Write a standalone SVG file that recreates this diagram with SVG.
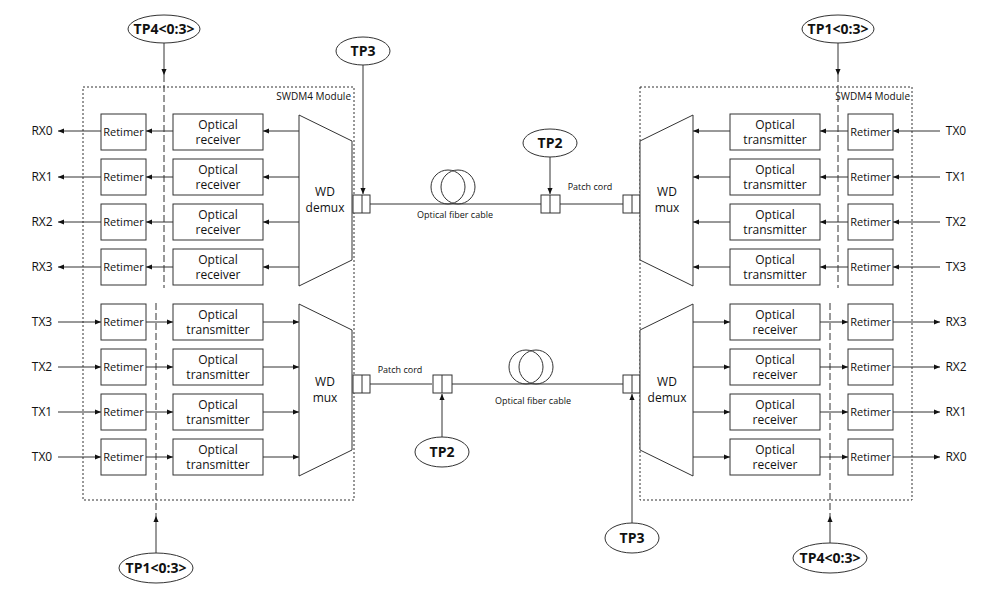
<svg xmlns="http://www.w3.org/2000/svg" width="1000" height="594" viewBox="0 0 1000 594">
<style>
text{font-family:"Open Sans","Liberation Sans",sans-serif;fill:#111}
.t{font-size:12px;text-anchor:middle}
.r{font-size:11px;text-anchor:middle}
.s{font-size:9px;text-anchor:middle}
.tp{font-size:14px;font-weight:bold;text-anchor:middle}
.b{fill:#fff;stroke:#333;stroke-width:1}
.l{stroke:#333;stroke-width:1;fill:none}
.d{stroke:#333;stroke-width:1;fill:none;stroke-dasharray:2,2}
.dl{stroke:#333;stroke-width:1;fill:none;stroke-dasharray:7,3}
</style>
<defs><marker id="a" viewBox="0 0 8 8" refX="7" refY="4" markerWidth="7" markerHeight="7" orient="auto"><path d="M0,1L7,4L0,7z" fill="#111"/></marker></defs>
<rect width="1000" height="594" fill="#fff"/>
<g id="modules">
<rect class="d" x="83" y="87" width="271" height="413"/>
<rect class="d" x="640" y="87" width="272" height="413"/>
<text x="351" y="100" font-size="10" text-anchor="end">SWDM4 Module</text>
<text x="910" y="100" font-size="10" text-anchor="end">SWDM4 Module</text>
</g>
<g id="connectors">
<g class="l" marker-end="url(#a)">
<line x1="101" y1="131" x2="58" y2="131"/><line x1="101" y1="177" x2="58" y2="177"/><line x1="101" y1="222" x2="58" y2="222"/><line x1="101" y1="267" x2="58" y2="267"/>
<line x1="173" y1="131" x2="146" y2="131"/><line x1="173" y1="177" x2="146" y2="177"/><line x1="173" y1="222" x2="146" y2="222"/><line x1="173" y1="267" x2="146" y2="267"/>
<line x1="299" y1="131" x2="263" y2="131"/><line x1="299" y1="177" x2="263" y2="177"/><line x1="299" y1="222" x2="263" y2="222"/><line x1="299" y1="267" x2="263" y2="267"/>
<line x1="58" y1="322" x2="101" y2="322"/><line x1="58" y1="367" x2="101" y2="367"/><line x1="58" y1="412" x2="101" y2="412"/><line x1="58" y1="457" x2="101" y2="457"/>
<line x1="146" y1="322" x2="173" y2="322"/><line x1="146" y1="367" x2="173" y2="367"/><line x1="146" y1="412" x2="173" y2="412"/><line x1="146" y1="457" x2="173" y2="457"/>
<line x1="263" y1="322" x2="299" y2="322"/><line x1="263" y1="367" x2="299" y2="367"/><line x1="263" y1="412" x2="299" y2="412"/><line x1="263" y1="457" x2="299" y2="457"/>
<line x1="940" y1="131" x2="893" y2="131"/><line x1="940" y1="177" x2="893" y2="177"/><line x1="940" y1="222" x2="893" y2="222"/><line x1="940" y1="267" x2="893" y2="267"/>
<line x1="848" y1="131" x2="820" y2="131"/><line x1="848" y1="177" x2="820" y2="177"/><line x1="848" y1="222" x2="820" y2="222"/><line x1="848" y1="267" x2="820" y2="267"/>
<line x1="730" y1="131" x2="693" y2="131"/><line x1="730" y1="177" x2="693" y2="177"/><line x1="730" y1="222" x2="693" y2="222"/><line x1="730" y1="267" x2="693" y2="267"/>
<line x1="693" y1="322" x2="730" y2="322"/><line x1="693" y1="367" x2="730" y2="367"/><line x1="693" y1="412" x2="730" y2="412"/><line x1="693" y1="457" x2="730" y2="457"/>
<line x1="820" y1="322" x2="848" y2="322"/><line x1="820" y1="367" x2="848" y2="367"/><line x1="820" y1="412" x2="848" y2="412"/><line x1="820" y1="457" x2="848" y2="457"/>
<line x1="893" y1="322" x2="940" y2="322"/><line x1="893" y1="367" x2="940" y2="367"/><line x1="893" y1="412" x2="940" y2="412"/><line x1="893" y1="457" x2="940" y2="457"/>
<line x1="164" y1="43" x2="164" y2="75"/>
<line x1="838" y1="43" x2="838" y2="75"/>
<line x1="363" y1="65" x2="363" y2="194"/>
<line x1="550" y1="157" x2="550" y2="194"/>
<line x1="442" y1="437" x2="442" y2="394"/>
<line x1="632" y1="523" x2="632" y2="394"/>
<line x1="156" y1="553" x2="156" y2="516"/>
<line x1="830" y1="543" x2="830" y2="516"/>
</g>
<line class="dl" x1="164" y1="75" x2="164" y2="288"/>
<line class="dl" x1="838" y1="75" x2="838" y2="288"/>
<line class="dl" x1="156" y1="303" x2="156" y2="516"/>
<line class="dl" x1="830" y1="303" x2="830" y2="516"/>
<line class="l" x1="370" y1="204" x2="541" y2="204"/>
<line class="l" x1="560" y1="204" x2="623" y2="204"/>
<line class="l" x1="370" y1="384" x2="432" y2="384"/>
<line class="l" x1="452" y1="384" x2="623" y2="384"/>
<circle class="l" cx="448" cy="187" r="17"/><circle class="l" cx="458" cy="187" r="17"/>
<circle class="l" cx="526" cy="367" r="17"/><circle class="l" cx="536" cy="367" r="17"/>
</g>
<g id="plugs">
<rect class="b" x="353" y="195" width="17" height="18"/><line class="l" x1="362" y1="195" x2="362" y2="213"/>
<rect class="b" x="541" y="195" width="19" height="18"/><line class="l" x1="550" y1="195" x2="550" y2="213"/>
<rect class="b" x="623" y="195" width="17" height="18"/><line class="l" x1="632" y1="195" x2="632" y2="213"/>
<rect class="b" x="353" y="375" width="17" height="18"/><line class="l" x1="362" y1="375" x2="362" y2="393"/>
<rect class="b" x="433" y="375" width="19" height="18"/><line class="l" x1="442" y1="375" x2="442" y2="393"/>
<rect class="b" x="623" y="375" width="17" height="18"/><line class="l" x1="632" y1="375" x2="632" y2="393"/>
<text class="s" x="455" y="218">Optical fiber cable</text>
<text class="s" x="590" y="190">Patch cord</text>
<text class="s" x="400" y="373">Patch cord</text>
<text class="s" x="533" y="404">Optical fiber cable</text>
</g>
<g id="wd">
<path class="b" d="M299,115L352,141L352,260L299,286z"/><text class="t" x="325" y="196">WD</text><text class="t" x="325" y="212">demux</text>
<path class="b" d="M299,304L352,330L352,450L299,476z"/><text class="t" x="325" y="386">WD</text><text class="t" x="325" y="402">mux</text>
<path class="b" d="M693,115L640,141L640,260L693,286z"/><text class="t" x="667" y="196">WD</text><text class="t" x="667" y="212">mux</text>
<path class="b" d="M693,304L640,330L640,450L693,476z"/><text class="t" x="667" y="386">WD</text><text class="t" x="667" y="402">demux</text>
</g>
<g id="left-top">
<rect class="b" x="101" y="114" width="45" height="36"/><text class="r" x="123.5" y="136">Retimer</text>
<rect class="b" x="101" y="159" width="45" height="36"/><text class="r" x="123.5" y="181">Retimer</text>
<rect class="b" x="101" y="204" width="45" height="36"/><text class="r" x="123.5" y="226">Retimer</text>
<rect class="b" x="101" y="249" width="45" height="36"/><text class="r" x="123.5" y="271">Retimer</text>
<rect class="b" x="173" y="114" width="90" height="36"/><text class="t" x="218" y="129">Optical</text><text class="t" x="218" y="144">receiver</text>
<rect class="b" x="173" y="159" width="90" height="36"/><text class="t" x="218" y="174">Optical</text><text class="t" x="218" y="189">receiver</text>
<rect class="b" x="173" y="204" width="90" height="36"/><text class="t" x="218" y="219">Optical</text><text class="t" x="218" y="234">receiver</text>
<rect class="b" x="173" y="249" width="90" height="36"/><text class="t" x="218" y="264">Optical</text><text class="t" x="218" y="279">receiver</text>
<text class="t" x="42" y="135">RX0</text><text class="t" x="42" y="181">RX1</text><text class="t" x="42" y="226">RX2</text><text class="t" x="42" y="271">RX3</text>
</g>
<g id="left-bottom">
<rect class="b" x="101" y="304" width="45" height="36"/><text class="r" x="123.5" y="326">Retimer</text>
<rect class="b" x="101" y="349" width="45" height="36"/><text class="r" x="123.5" y="371">Retimer</text>
<rect class="b" x="101" y="394" width="45" height="36"/><text class="r" x="123.5" y="416">Retimer</text>
<rect class="b" x="101" y="439" width="45" height="36"/><text class="r" x="123.5" y="461">Retimer</text>
<rect class="b" x="173" y="304" width="90" height="36"/><text class="t" x="218" y="319">Optical</text><text class="t" x="218" y="334">transmitter</text>
<rect class="b" x="173" y="349" width="90" height="36"/><text class="t" x="218" y="364">Optical</text><text class="t" x="218" y="379">transmitter</text>
<rect class="b" x="173" y="394" width="90" height="36"/><text class="t" x="218" y="409">Optical</text><text class="t" x="218" y="424">transmitter</text>
<rect class="b" x="173" y="439" width="90" height="36"/><text class="t" x="218" y="454">Optical</text><text class="t" x="218" y="469">transmitter</text>
<text class="t" x="42" y="326">TX3</text><text class="t" x="42" y="371">TX2</text><text class="t" x="42" y="416">TX1</text><text class="t" x="42" y="461">TX0</text>
</g>
<g id="right-top">
<rect class="b" x="848" y="114" width="45" height="36"/><text class="r" x="870.5" y="136">Retimer</text>
<rect class="b" x="848" y="159" width="45" height="36"/><text class="r" x="870.5" y="181">Retimer</text>
<rect class="b" x="848" y="204" width="45" height="36"/><text class="r" x="870.5" y="226">Retimer</text>
<rect class="b" x="848" y="249" width="45" height="36"/><text class="r" x="870.5" y="271">Retimer</text>
<rect class="b" x="730" y="114" width="90" height="36"/><text class="t" x="775" y="129">Optical</text><text class="t" x="775" y="144">transmitter</text>
<rect class="b" x="730" y="159" width="90" height="36"/><text class="t" x="775" y="174">Optical</text><text class="t" x="775" y="189">transmitter</text>
<rect class="b" x="730" y="204" width="90" height="36"/><text class="t" x="775" y="219">Optical</text><text class="t" x="775" y="234">transmitter</text>
<rect class="b" x="730" y="249" width="90" height="36"/><text class="t" x="775" y="264">Optical</text><text class="t" x="775" y="279">transmitter</text>
<text class="t" x="956" y="135">TX0</text><text class="t" x="956" y="181">TX1</text><text class="t" x="956" y="226">TX2</text><text class="t" x="956" y="271">TX3</text>
</g>
<g id="right-bottom">
<rect class="b" x="848" y="304" width="45" height="36"/><text class="r" x="870.5" y="326">Retimer</text>
<rect class="b" x="848" y="349" width="45" height="36"/><text class="r" x="870.5" y="371">Retimer</text>
<rect class="b" x="848" y="394" width="45" height="36"/><text class="r" x="870.5" y="416">Retimer</text>
<rect class="b" x="848" y="439" width="45" height="36"/><text class="r" x="870.5" y="461">Retimer</text>
<rect class="b" x="730" y="304" width="90" height="36"/><text class="t" x="775" y="319">Optical</text><text class="t" x="775" y="334">receiver</text>
<rect class="b" x="730" y="349" width="90" height="36"/><text class="t" x="775" y="364">Optical</text><text class="t" x="775" y="379">receiver</text>
<rect class="b" x="730" y="394" width="90" height="36"/><text class="t" x="775" y="409">Optical</text><text class="t" x="775" y="424">receiver</text>
<rect class="b" x="730" y="439" width="90" height="36"/><text class="t" x="775" y="454">Optical</text><text class="t" x="775" y="469">receiver</text>
<text class="t" x="956" y="326">RX3</text><text class="t" x="956" y="371">RX2</text><text class="t" x="956" y="416">RX1</text><text class="t" x="956" y="461">RX0</text>
</g>
<g id="tps">
<ellipse class="b" cx="164" cy="29" rx="36" ry="14"/><text class="tp" x="164" y="34">TP4&lt;0:3&gt;</text>
<ellipse class="b" cx="838" cy="29" rx="36" ry="14"/><text class="tp" x="838" y="34">TP1&lt;0:3&gt;</text>
<ellipse class="b" cx="363" cy="51" rx="27" ry="14"/><text class="tp" x="363" y="56">TP3</text>
<ellipse class="b" cx="550" cy="143" rx="27" ry="14"/><text class="tp" x="550" y="148">TP2</text>
<ellipse class="b" cx="442" cy="452" rx="27" ry="15"/><text class="tp" x="442" y="457">TP2</text>
<ellipse class="b" cx="632" cy="538" rx="27" ry="15"/><text class="tp" x="632" y="543">TP3</text>
<ellipse class="b" cx="156" cy="568" rx="37" ry="15"/><text class="tp" x="156" y="573">TP1&lt;0:3&gt;</text>
<ellipse class="b" cx="830" cy="558" rx="37" ry="15"/><text class="tp" x="830" y="563">TP4&lt;0:3&gt;</text>
</g>
</svg>
